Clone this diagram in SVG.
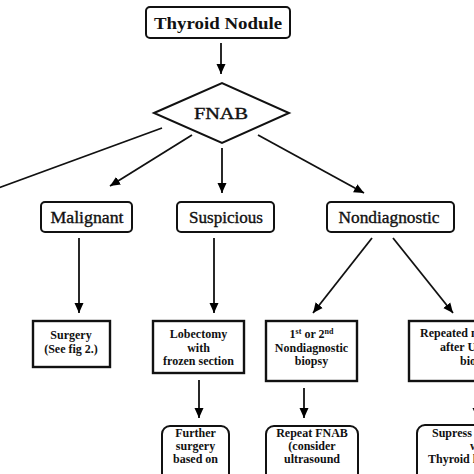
<svg xmlns="http://www.w3.org/2000/svg" width="474" height="474" viewBox="0 0 474 474">
<defs>
<marker id="ah" markerUnits="userSpaceOnUse" markerWidth="10" markerHeight="10" viewBox="0 0 10 10" refX="10" refY="5" orient="auto">
<path d="M0,0.5 L10,5 L0,9.5 Z" fill="#000"/>
</marker>
<style>
.box{fill:#fff;stroke:#111;stroke-width:2}
.sq{fill:#fff;stroke:#111;stroke-width:2.4}
.t1{font-family:"Liberation Serif",serif;font-size:16px;fill:#111;text-anchor:middle}
.hv{stroke:#111;stroke-width:0.35}
.tb{font-family:"Liberation Serif",serif;font-size:12px;font-weight:bold;fill:#111;text-anchor:middle}
.ts{font-family:"Liberation Serif",serif;font-size:12px;font-weight:bold;fill:#111}
.c{stroke:#111;stroke-width:1.8;fill:none}
.ca{stroke:#111;stroke-width:1.8;fill:none;marker-end:url(#ah)}
</style>
</defs>
<rect width="474" height="474" fill="#fff"/>
<g id="connectors">
<line class="ca" x1="221" y1="43" x2="221" y2="74"/>
<line class="c" x1="162" y1="128" x2="-10" y2="191"/>
<line class="ca" x1="192" y1="135" x2="110" y2="186"/>
<line class="ca" x1="222" y1="148" x2="222" y2="193"/>
<line class="ca" x1="258" y1="135" x2="364" y2="193"/>
<line class="ca" x1="79" y1="238" x2="79" y2="313"/>
<line class="ca" x1="214" y1="238" x2="214" y2="313"/>
<line class="ca" x1="372" y1="238" x2="313" y2="313"/>
<line class="ca" x1="393" y1="238" x2="453" y2="313"/>
<line class="ca" x1="199" y1="380" x2="199" y2="418"/>
<line class="ca" x1="304" y1="388" x2="304" y2="418"/>
<line class="ca" x1="477" y1="388" x2="477" y2="418"/>
</g>
<g id="thyroid-nodule">
<rect class="box" x="146" y="7" width="144" height="31" rx="4"/>
<text class="t1" x="218" y="29" font-size="17" font-weight="bold" textLength="128" lengthAdjust="spacingAndGlyphs">Thyroid Nodule</text>
</g>
<g id="fnab">
<polygon class="box" points="154,113 222,83 289,113 222,143"/>
<text class="t1" x="221" y="119" font-size="19" textLength="54" lengthAdjust="spacingAndGlyphs" style="stroke:#111;stroke-width:0.4">FNAB</text>
</g>
<g id="malignant">
<rect class="box" x="41" y="202" width="91" height="30" rx="4"/>
<text class="t1 hv" x="87" y="223" textLength="73" lengthAdjust="spacingAndGlyphs">Malignant</text>
</g>
<g id="suspicious">
<rect class="box" x="177" y="202" width="97" height="30" rx="4"/>
<text class="t1 hv" x="226" y="223" textLength="74" lengthAdjust="spacingAndGlyphs">Suspicious</text>
</g>
<g id="nondiagnostic">
<rect class="box" x="327" y="202" width="127" height="30" rx="4"/>
<text class="t1 hv" x="389" y="223" textLength="101" lengthAdjust="spacingAndGlyphs">Nondiagnostic</text>
</g>
<g id="surgery">
<rect class="sq" x="33" y="321" width="77" height="46"/>
<text class="tb" x="71" y="339">Surgery</text>
<text class="tb" x="71" y="353">(See fig 2.)</text>
</g>
<g id="lobectomy">
<rect class="sq" x="153" y="321" width="91" height="52"/>
<text class="tb" x="198.5" y="338">Lobectomy</text>
<text class="tb" x="198.5" y="352">with</text>
<text class="tb" x="198.5" y="365">frozen section</text>
</g>
<g id="first-second">
<rect class="sq" x="266" y="321" width="91" height="60"/>
<text class="tb" x="311.5" y="338">1<tspan font-size="8" dy="-4">st</tspan><tspan dy="4"> or 2</tspan><tspan font-size="8" dy="-4">nd</tspan></text>
<text class="tb" x="311.5" y="352">Nondiagnostic</text>
<text class="tb" x="311.5" y="365">biopsy</text>
</g>
<g id="repeated">
<rect class="sq" x="409" y="321" width="140" height="60"/>
<text class="ts" x="420" y="337">Repeated nondiagnostic</text>
<text class="ts" x="440" y="351">after US-guided</text>
<text class="ts" x="460" y="365">biopsy</text>
</g>
<g id="further">
<rect class="box" x="162" y="426" width="67" height="60" rx="8"/>
<text class="tb" x="195.5" y="437">Further</text>
<text class="tb" x="195.5" y="450">surgery</text>
<text class="tb" x="195.5" y="463">based on</text>
</g>
<g id="repeat-fnab">
<rect class="box" x="266" y="426" width="92" height="60" rx="8"/>
<text class="tb" x="312" y="437">Repeat FNAB</text>
<text class="tb" x="312" y="450">(consider</text>
<text class="tb" x="312" y="463">ultrasound</text>
</g>
<g id="supress">
<rect class="box" x="417" y="425" width="100" height="60" rx="8"/>
<text class="ts" x="432" y="437">Supress</text>
<text class="ts" x="470" y="450">with</text>
<text class="ts" x="428" y="463">Thyroid hormone</text>
</g>
</svg>
